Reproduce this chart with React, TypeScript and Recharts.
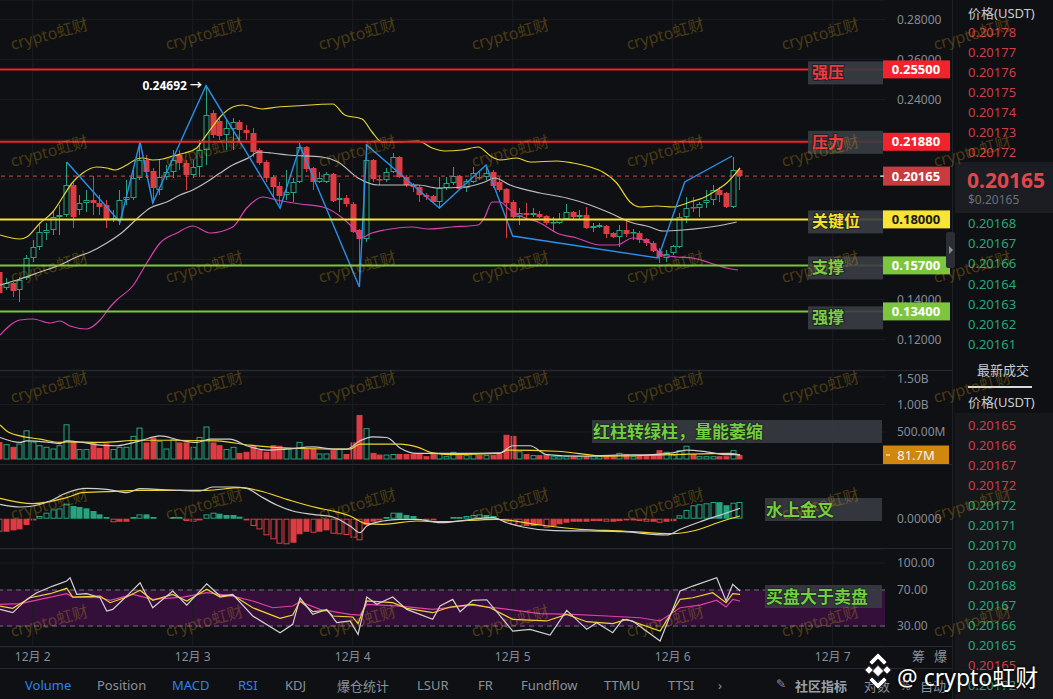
import React from 'react';
import {
  ComposedChart,
  Bar,
  Line,
  XAxis,
  YAxis,
  CartesianGrid,
  ReferenceLine,
  ReferenceArea,
  ReferenceDot,
} from 'recharts';

// hourly candles from 12月1 19:00, [open, high, low, close]
const candles: [number, number, number, number][] = [
  [0.1537, 0.1547, 0.1412, 0.1432], [0.1457, 0.1507, 0.1447, 0.1482], [0.1482, 0.1487, 0.1412, 0.1442],
  [0.1447, 0.1512, 0.1387, 0.1497], [0.1507, 0.1622, 0.1497, 0.1607], [0.1607, 0.1697, 0.1587, 0.1662],
  [0.1662, 0.1772, 0.1647, 0.1737], [0.1732, 0.1782, 0.1697, 0.1747], [0.1747, 0.1847, 0.1722, 0.1812],
  [0.1812, 0.1872, 0.1722, 0.1822], [0.1822, 0.2087, 0.1812, 0.1972], [0.1972, 0.1982, 0.1757, 0.1812],
  [0.1847, 0.1922, 0.1822, 0.1882], [0.1882, 0.1947, 0.1837, 0.1897], [0.1897, 0.2017, 0.1822, 0.1882],
  [0.1882, 0.1922, 0.1822, 0.1862], [0.1872, 0.1897, 0.1757, 0.1797], [0.1797, 0.1847, 0.1787, 0.1807],
  [0.1797, 0.1947, 0.1772, 0.1897], [0.1897, 0.1997, 0.1872, 0.1912], [0.1907, 0.2047, 0.1897, 0.2007],
  [0.2007, 0.2187, 0.1997, 0.2097], [0.2097, 0.2122, 0.2007, 0.2037], [0.2042, 0.2057, 0.1882, 0.1957],
  [0.1947, 0.2097, 0.1922, 0.2012], [0.2012, 0.2072, 0.1997, 0.2037], [0.2037, 0.2147, 0.2007, 0.2097],
  [0.2122, 0.2147, 0.2047, 0.2082], [0.2082, 0.2097, 0.1947, 0.2022], [0.2022, 0.2097, 0.2007, 0.2062],
  [0.2062, 0.2197, 0.2012, 0.2147], [0.2147, 0.24692, 0.2072, 0.2322], [0.2332, 0.2347, 0.2207, 0.2222],
  [0.2292, 0.2312, 0.2197, 0.2217], [0.2222, 0.2297, 0.2147, 0.2257], [0.2252, 0.2307, 0.2147, 0.2287],
  [0.2287, 0.2297, 0.2197, 0.2247], [0.2247, 0.2272, 0.2197, 0.2232], [0.2232, 0.2257, 0.2112, 0.2137],
  [0.2147, 0.2157, 0.2072, 0.2082], [0.2087, 0.2097, 0.1987, 0.2007], [0.2012, 0.2022, 0.1912, 0.1962],
  [0.1967, 0.1987, 0.1872, 0.1917], [0.1922, 0.2047, 0.1897, 0.1937], [0.1932, 0.2007, 0.1887, 0.1987],
  [0.1987, 0.2182, 0.1982, 0.2162], [0.2162, 0.2167, 0.2037, 0.2052], [0.2057, 0.2062, 0.1947, 0.1987],
  [0.1987, 0.2037, 0.1982, 0.2007], [0.1987, 0.2037, 0.1982, 0.2027], [0.2027, 0.2032, 0.1887, 0.1892],
  [0.1897, 0.1982, 0.1837, 0.1907], [0.1907, 0.1922, 0.1862, 0.1877], [0.1877, 0.1887, 0.1732, 0.1737],
  [0.1747, 0.1752, 0.1462, 0.1702], [0.1702, 0.2167, 0.1687, 0.2097], [0.2097, 0.2102, 0.1987, 0.2002],
  [0.2002, 0.2022, 0.1972, 0.1997], [0.1997, 0.2057, 0.1987, 0.2037], [0.2037, 0.2132, 0.2032, 0.2112],
  [0.2112, 0.2117, 0.2007, 0.2012], [0.2012, 0.2022, 0.1962, 0.1972], [0.1972, 0.1982, 0.1937, 0.1962],
  [0.1962, 0.1972, 0.1887, 0.1922], [0.1922, 0.1932, 0.1897, 0.1912], [0.1917, 0.1922, 0.1882, 0.1887],
  [0.1887, 0.2012, 0.1862, 0.1957], [0.1957, 0.2012, 0.1947, 0.1982], [0.1982, 0.2062, 0.1972, 0.2017],
  [0.2017, 0.2022, 0.1947, 0.1952], [0.1957, 0.2002, 0.1937, 0.1992], [0.1987, 0.2062, 0.1982, 0.2032],
  [0.2012, 0.2037, 0.1997, 0.2007], [0.2012, 0.2062, 0.1997, 0.2032], [0.2037, 0.2047, 0.1957, 0.1967],
  [0.1987, 0.2012, 0.1937, 0.1947], [0.1952, 0.1957, 0.1707, 0.1882], [0.1887, 0.1897, 0.1807, 0.1812],
  [0.1812, 0.1857, 0.1772, 0.1832], [0.1832, 0.1882, 0.1807, 0.1822], [0.1822, 0.1857, 0.1812, 0.1832],
  [0.1827, 0.1842, 0.1807, 0.1812], [0.1817, 0.1822, 0.1772, 0.1782], [0.1782, 0.1812, 0.1737, 0.1787],
  [0.1782, 0.1832, 0.1777, 0.1802], [0.1802, 0.1877, 0.1797, 0.1837], [0.1837, 0.1842, 0.1802, 0.1812],
  [0.1812, 0.1847, 0.1797, 0.1822], [0.1822, 0.1862, 0.1752, 0.1757], [0.1757, 0.1782, 0.1737, 0.1767],
  [0.1762, 0.1782, 0.1757, 0.1772], [0.1767, 0.1772, 0.1707, 0.1727], [0.1732, 0.1737, 0.1707, 0.1712],
  [0.1712, 0.1772, 0.1662, 0.1747], [0.1747, 0.1797, 0.1712, 0.1727], [0.1732, 0.1752, 0.1697, 0.1737],
  [0.1732, 0.1742, 0.1682, 0.1697], [0.1702, 0.1707, 0.1667, 0.1682], [0.1682, 0.1692, 0.1637, 0.1642],
  [0.1642, 0.1657, 0.1582, 0.1612], [0.1607, 0.1647, 0.1587, 0.1627], [0.1632, 0.1672, 0.1622, 0.1667],
  [0.1662, 0.1832, 0.1657, 0.1812], [0.1812, 0.1912, 0.1782, 0.1857], [0.1862, 0.1912, 0.1837, 0.1857],
  [0.1857, 0.1887, 0.1812, 0.1877], [0.1882, 0.1947, 0.1857, 0.1897], [0.1897, 0.1972, 0.1872, 0.1947],
  [0.1947, 0.1962, 0.1887, 0.1922], [0.1932, 0.1937, 0.1857, 0.1862], [0.1862, 0.2112, 0.1857, 0.2047],
  [0.2047, 0.2057, 0.1947, 0.20165],
];

// Bollinger bands, [candle index, price]
const bollUpper: [number, number][] = [
  [0.1, 0.1722], [3.1, 0.1702], [4.1, 0.1712], [6.1, 0.1782], [8.0, 0.1837], [9.5, 0.1912], [10.9, 0.1982],
  [12.5, 0.2032], [14.6, 0.2062], [16.1, 0.2057], [17.3, 0.2047], [19.1, 0.2072], [20.6, 0.2102], [21.5, 0.2107],
  [23.0, 0.2097], [24.5, 0.2102], [26.0, 0.2117], [27.8, 0.2132], [29.6, 0.2157], [30.5, 0.2197], [31.6, 0.2247],
  [33.1, 0.2312], [35.0, 0.2362], [36.5, 0.2372], [39.4, 0.2352], [41.8, 0.2362], [44.3, 0.2367], [50.0, 0.2377],
  [51.8, 0.2322], [54.4, 0.2302], [55.9, 0.2237], [57.4, 0.2187], [59.3, 0.2187], [62.8, 0.2192], [64.9, 0.2157],
  [66.8, 0.2142], [69.4, 0.2147], [71.8, 0.2162], [73.9, 0.2112], [75.1, 0.2097], [77.6, 0.2107], [79.6, 0.2087],
  [83.6, 0.2092], [86.0, 0.2082], [88.6, 0.2062], [90.5, 0.2037], [92.6, 0.1982], [94.6, 0.1887], [96.1, 0.1862],
  [98.6, 0.1867], [101.0, 0.1862], [103.6, 0.1887], [105.5, 0.1907], [107.6, 0.1947], [109.1, 0.1982],
  [110.6, 0.2037], [111.1, 0.2057],
];
const bollMid: [number, number][] = [
  [0.1, 0.1472], [3.1, 0.1502], [6.1, 0.1537], [9.1, 0.1572], [11.6, 0.1612], [13.6, 0.1637], [16.1, 0.1682],
  [18.5, 0.1737], [20.6, 0.1802], [22.6, 0.1857], [25.1, 0.1887], [27.1, 0.1922], [29.0, 0.1947], [31.1, 0.1987],
  [33.1, 0.2032], [35.0, 0.2072], [37.6, 0.2112], [38.8, 0.2137], [40.9, 0.2132], [43.3, 0.2122], [48.4, 0.2112],
  [50.8, 0.2087], [53.8, 0.2007], [56.8, 0.1972], [62.8, 0.1972], [65.8, 0.1957], [69.8, 0.1962], [72.8, 0.1987],
  [74.3, 0.2007], [76.6, 0.1972], [81.1, 0.1932], [85.1, 0.1907], [88.6, 0.1872], [91.6, 0.1832], [94.6, 0.1787],
  [97.6, 0.1762], [99.5, 0.1742], [102.5, 0.1747], [105.5, 0.1757], [108.5, 0.1772], [110.6, 0.1787],
];
const bollLower: [number, number][] = [
  [0.1, 0.1222], [3.1, 0.1297], [5.0, 0.1302], [7.6, 0.1282], [9.1, 0.1292], [10.6, 0.1267], [13.1, 0.1252],
  [15.1, 0.1297], [16.6, 0.1362], [17.6, 0.1397], [20.0, 0.1467], [22.1, 0.1582], [24.1, 0.1682], [26.6, 0.1732],
  [29.0, 0.1767], [31.6, 0.1732], [35.0, 0.1762], [37.1, 0.1857], [39.5, 0.1912], [41.6, 0.1897], [45.1, 0.1877],
  [48.5, 0.1862], [51.8, 0.1797], [53.3, 0.1747], [54.1, 0.1707], [55.9, 0.1732], [57.8, 0.1747], [61.9, 0.1762],
  [64.3, 0.1752], [67.9, 0.1762], [71.8, 0.1772], [72.8, 0.1812], [73.9, 0.1887], [75.1, 0.1887], [76.6, 0.1847],
  [78.5, 0.1812], [81.1, 0.1782], [83.6, 0.1732], [86.6, 0.1707], [90.1, 0.1672], [92.6, 0.1672], [95.0, 0.1707],
  [97.6, 0.1682], [99.5, 0.1622], [101.6, 0.1612], [104.0, 0.1607], [106.6, 0.1582], [109.1, 0.1557],
  [110.8, 0.1547],
];

// swing zigzag
const zigzag: [number, number][] = [
  [10.1, 0.2087], [18.1, 0.1787], [21.1, 0.2187], [23.0, 0.1882], [31.0, 0.24692], [42.1, 0.1857],
  [45.1, 0.2167], [54.0, 0.1462], [55.1, 0.2172], [66.0, 0.1857], [73.0, 0.2072], [77.0, 0.1717],
  [98.8, 0.1607], [102.8, 0.1987], [109.9, 0.2117],
];
const peakPrice = 0.24692;
const peakIndex = 31.0;

const levelPrices = [0.255, 0.2188, 0.18, 0.157, 0.134];
const levelNames = ['强压', '压力', '关键位', '支撑', '强撑'];
const lastPrice = 0.20165;

// volume in billions
const volumes = [
  0.32, 0.28, 0.23, 0.29, 0.53, 0.32, 0.26, 0.23, 0.2, 0.26, 0.64, 0.32, 0.19, 0.19, 0.31, 0.21, 0.29, 0.19,
  0.23, 0.23, 0.43, 0.58, 0.31, 0.4, 0.34, 0.2, 0.37, 0.31, 0.31, 0.23, 0.41, 0.6, 0.31, 0.26, 0.19, 0.23,
  0.12, 0.14, 0.25, 0.17, 0.14, 0.26, 0.25, 0.21, 0.21, 0.32, 0.19, 0.2, 0.11, 0.11, 0.17, 0.19, 0.1, 0.31,
  0.81, 0.57, 0.12, 0.09, 0.09, 0.1, 0.1, 0.1, 0.1, 0.1, 0.06, 0.1, 0.12, 0.06, 0.14, 0.08, 0.08, 0.12,
  0.08, 0.08, 0.08, 0.1, 0.45, 0.43, 0.15, 0.1, 0.08, 0.08, 0.1, 0.06, 0.06, 0.06, 0.06, 0.06, 0.06, 0.06,
  0.06, 0.06, 0.06, 0.12, 0.1, 0.06, 0.08, 0.08, 0.08, 0.17, 0.14, 0.08, 0.17, 0.25, 0.1, 0.06, 0.06, 0.06,
  0.06, 0.06, 0.17, 0.0817,
];
const volMaFast: [number, number][] = [
  [0.1, 0.4], [3.1, 0.31], [4.1, 0.34], [7.6, 0.31], [9.1, 0.29], [10.1, 0.34], [12.5, 0.31], [15.1, 0.26],
  [17.6, 0.25], [21.1, 0.34], [24.1, 0.43], [27.1, 0.35], [29.6, 0.31], [31.6, 0.37], [34.6, 0.37], [37.1, 0.25],
  [40.1, 0.17], [43.1, 0.19], [47.0, 0.23], [50.0, 0.19], [52.1, 0.19], [54.1, 0.34], [56.0, 0.41], [58.1, 0.4],
  [60.1, 0.21], [62.6, 0.11], [65.0, 0.11], [67.6, 0.11], [75.1, 0.12], [77.0, 0.25], [79.6, 0.25], [82.1, 0.09],
  [87.1, 0.06], [92.6, 0.08], [98.0, 0.09], [101.0, 0.12], [103.1, 0.17], [106.1, 0.14], [109.1, 0.09],
  [111.1, 0.09],
];
const volMaSlow: [number, number][] = [
  [0.1, 0.63], [1.1, 0.52], [3.1, 0.43], [6.1, 0.37], [9.1, 0.31], [10.1, 0.32], [15.1, 0.31], [21.1, 0.35],
  [26.0, 0.35], [32.6, 0.34], [37.6, 0.26], [45.1, 0.2], [52.6, 0.19], [54.1, 0.28], [60.1, 0.28], [62.6, 0.23],
  [65.0, 0.12], [67.6, 0.09], [75.1, 0.11], [76.1, 0.17], [83.6, 0.15], [91.1, 0.06], [101.0, 0.09],
  [109.6, 0.11], [111.1, 0.08],
];
const lastVolume = 0.0817;

const macdHist = [
  -0.0013, -0.0013, -0.00117, -0.00107, -0.00063, -0.00017, 0.00027, 0.0006, 0.00093, 0.00103, 0.0015,
  0.00127, 0.00117, 0.00103, 0.00077, 0.00043, 0.00017, -0.00036, -0.0003, -0.0003, 0.00017, 0.00043,
  0.00043, 0.00017, 0.0001, 0.0001, 0.00017, 0.00017, -0.00023, -0.0003, -0.00017, 0.00043, 0.0006, 0.0005,
  0.00037, 0.00037, 0.0002, -0.00017, -0.00073, -0.00107, -0.00166, -0.00206, -0.0025, -0.00256, -0.0024,
  -0.00156, -0.0013, -0.0014, -0.0013, -0.00117, -0.0015, -0.00156, -0.00163, -0.0019, -0.00216, -0.00063,
  -0.0003, -0.00017, 0.00017, 0.0006, 0.0006, 0.00037, 0.00027, 0.0001, -0.00013, -0.00017, -0.00007,
  0.0001, 0.00017, 0.00017, 0.00027, 0.00037, 0.00043, 0.00037, 0.00027, 0.0001, -0.0003, -0.00063,
  -0.00073, -0.00073, -0.00073, -0.00063, -0.0009, -0.00073, -0.00056, -0.0004, -0.0003, -0.0003, -0.0003,
  -0.00023, -0.00023, -0.0003, -0.0003, -0.00023, -0.00017, -0.00017, -0.00023, -0.0003, -0.0003, -0.0004,
  -0.0003, -0.00025, 0.00034, 0.00087, 0.00134, 0.00144, 0.00154, 0.00167, 0.00165, 0.00134, 0.0016,
  0.00167,
];
const macdDif: [number, number][] = [
  [0.1, 0.00144], [3.1, 0.00117], [5.0, 0.00127], [7.6, 0.00177], [10.1, 0.0026], [13.1, 0.00304],
  [16.1, 0.00294], [19.1, 0.0026], [21.1, 0.003], [23.6, 0.00294], [26.6, 0.00284], [30.1, 0.00277],
  [32.0, 0.00317], [35.0, 0.00317], [37.1, 0.00304], [39.1, 0.00227], [41.6, 0.00137], [44.0, 0.00077],
  [47.0, 0.00044], [50.0, 0.00017], [52.6, -0.00073], [54.1, -0.0014], [55.1, -0.00073], [57.5, -0.00023],
  [60.1, -0.00006], [62.6, -0.00006], [65.0, -0.0003], [66.1, -0.0004], [71.0, -0.00006], [74.0, 0.0001],
  [76.1, -0.0004], [78.5, -0.00083], [82.6, -0.00116], [88.6, -0.00123], [93.5, -0.0013], [100.1, -0.00163],
  [102.1, -0.00106], [105.1, -0.0003], [108.5, 0.00044], [111.1, 0.00104],
];
const macdDea: [number, number][] = [
  [0.1, 0.00204], [5.0, 0.0015], [10.1, 0.0021], [12.5, 0.0026], [16.1, 0.0027], [21.1, 0.00284],
  [26.0, 0.00284], [31.1, 0.00284], [36.1, 0.0031], [39.1, 0.00277], [43.1, 0.00194], [47.6, 0.0011],
  [50.0, 0.00077], [52.6, 0.00027], [55.1, -0.0005], [57.5, -0.00056], [62.6, -0.00023], [66.1, -0.0003],
  [74.6, -0.00006], [81.1, -0.00063], [87.1, -0.00106], [93.5, -0.00123], [101.0, -0.0015], [104.0, -0.00123],
  [108.5, -0.00023], [111.1, 0.00027],
];

const rsiFast: [number, number][] = [
  [0.1, 48.5], [2.0, 44.8], [4.1, 59.6], [5.6, 67], [8.0, 74.4], [10.1, 80], [10.6, 83.7], [11.6, 65.2],
  [13.1, 65.9], [15.1, 61.4], [16.1, 46.7], [17.0, 48.5], [19.1, 63.3], [21.1, 78.1], [23.0, 50.3], [26.0, 68.9],
  [28.1, 53.3], [31.1, 77], [33.1, 63.3], [35.0, 65.2], [38.0, 41.1], [42.1, 22.6], [44.0, 31.9], [45.1, 61.4],
  [47.0, 43], [49.1, 48.5], [50.6, 33.7], [52.6, 35.6], [53.8, 20.7], [55.1, 62.2], [56.6, 54.1], [59.0, 62.2],
  [61.1, 48.5], [65.0, 37.4], [66.1, 52.2], [68.0, 59.6], [69.1, 45.9], [71.0, 58.6], [73.1, 59.2], [77.0, 24.4],
  [79.6, 26.3], [82.6, 20], [85.1, 47.4], [88.1, 26.3], [89.6, 33.7], [92.0, 22.6], [93.5, 37.4], [95.0, 35.6],
  [99.1, 13.3], [102.1, 68.9], [104.0, 74.4], [107.6, 83.7], [109.0, 57.8], [110.0, 76.3], [111.1, 68.9],
];
const rsiMid: [number, number][] = [
  [0.1, 52.2], [2.0, 49.6], [4.6, 61.4], [7.6, 65.9], [10.1, 71.9], [11.0, 62.2], [15.1, 63.3], [16.6, 55.9],
  [19.1, 62.2], [21.1, 69.7], [23.0, 58.6], [26.0, 65.2], [28.1, 57.8], [31.1, 70.8], [33.1, 62.2], [35.0, 64.4],
  [38.0, 50.3], [42.1, 38.5], [44.0, 42.2], [45.1, 57.8], [47.0, 45.9], [49.1, 47.4], [50.0, 41.1], [53.0, 40],
  [53.8, 32.6], [55.1, 57.8], [59.0, 55.9], [61.1, 49.6], [65.0, 44.8], [67.6, 51.1], [71.0, 54.1], [73.6, 50.3],
  [77.0, 37.4], [82.1, 35.6], [85.1, 43], [88.1, 34.8], [92.0, 32.6], [94.1, 37.4], [99.1, 24.4], [102.1, 59.6],
  [104.0, 61.4], [107.0, 67], [109.0, 55.9], [110.0, 65.9], [111.1, 65.2],
];
const rsiSlow: [number, number][] = [
  [0.1, 54.1], [3.1, 54.8], [6.1, 59.6], [10.1, 65.9], [11.0, 62.2], [15.1, 61.4], [16.6, 58.6], [20.0, 65.2],
  [23.0, 59.6], [27.5, 62.2], [31.1, 67], [35.0, 63.3], [38.0, 57.8], [41.0, 50.3], [44.0, 52.2], [45.1, 57],
  [48.1, 48.5], [52.6, 43], [54.1, 42.2], [55.1, 54.1], [60.1, 52.2], [65.0, 48.5], [71.0, 53.3], [75.1, 49.6],
  [81.1, 43.7], [86.0, 43], [91.1, 41.1], [96.1, 39.2], [99.1, 35.6], [102.1, 50.3], [105.1, 53.3],
  [107.6, 58.6], [109.0, 51.1], [110.0, 59.6], [111.1, 57.8],
];

const priceTicks = [0.12, 0.14, 0.16, 0.18, 0.2, 0.22, 0.24, 0.26, 0.28];
const volTicks = [0.5, 1, 1.5];
const rsiTicks = [30, 50, 70, 100];
const dayTicks = [5, 29, 53, 77, 101, 125];
const dayLabels = ['12月 2', '12月 3', '12月 4', '12月 5', '12月 6', '12月 7'];

const askPrices = [0.20178, 0.20177, 0.20176, 0.20175, 0.20174, 0.20173, 0.20172];
const bidPrices = [0.20168, 0.20167, 0.20166, 0.20164, 0.20163, 0.20162, 0.20161];
const tradePrices = [
  0.20165, 0.20166, 0.20167, 0.20172, 0.20172, 0.20171, 0.2017, 0.20169, 0.20168, 0.20167, 0.20166, 0.20165,
  0.20165, 0.20172,
];
const tradeSides = ['sell', 'sell', 'sell', 'sell', 'buy', 'buy', 'buy', 'buy', 'buy', 'buy', 'buy', 'buy', 'sell', 'buy'];

const toolbarItems = ['Volume', 'Position', 'MACD', 'RSI', 'KDJ', '爆仓统计', 'LSUR', 'FR', 'Fundflow', 'TTMU', 'TTSI', '›'];
const toolbarActive = ['Volume', 'MACD', 'RSI'];

// ---- styles / layout
const BG = '#0e1013';
const GRID = '#1b1e23';
const SEP = '#262930';
const UP = '#27a47e';
const DOWN = '#dd3c42';
const AXIS_TXT = '#848c99';
const FONT = '"Noto Sans", "Noto Sans CJK SC", sans-serif';
const CHART_W = 952;
const X_DOMAIN: [number, number] = [0.09, 132.84];
const PRICE_DOMAIN: [number, number] = [0.1047, 0.2897];
const levelLineColors = ['#f2232d', '#f2232d', '#f7e434', '#7cc63e', '#7cc63e'];
const levelBoxText = ['#ffffff', '#ffffff', '#1c1c1c', '#ffffff', '#ffffff'];
const levelNameColors = ['#f2393e', '#f2393e', '#f4e12e', '#76d03f', '#76d03f'];
const levelNameTop = [-8, -11, -9, -9, -5];
const toolbarLeft = [25, 97, 172, 238, 285, 337, 417, 478, 521, 604, 668, 718];
const wmCols = [47, 202, 355, 508, 663, 818, 970];
const wmRows = [33, 150, 266, 386, 503, 620];

const rows = (pts: [number, number][]) => pts.map(([i, v]) => ({ i, v }));
const candleRows = candles.map(([o, h, l, c], i) => ({ i, o, h, l, c, range: [l, h] }));
const volRows = volumes.map((v, i) => ({ i, v, up: candles[i][3] >= candles[i][0] }));
const macdRows = macdHist.map((v, i) => ({
  i,
  v,
  hollow: i === 0 || Math.abs(v) > Math.abs(macdHist[i - 1]),
}));
// ticks that sit right under a tag on the axis are left blank
const taggedPrices = [...levelPrices, lastPrice];
const priceTickText = (v: number) => (taggedPrices.some((p) => Math.abs(p - v) < 0.004) ? '' : v.toFixed(5));

function CandleShape(props: any) {
  const { x, y, width, height, payload } = props;
  if (x == null || y == null || !payload) return null;
  const { o, h, l, c } = payload;
  const top = Math.min(y, y + height);
  const hgt = Math.abs(height);
  const px = (v: number) => (h === l ? top : top + ((h - v) / (h - l)) * hgt);
  const up = c >= o;
  const color = up ? UP : DOWN;
  const cx = Math.round(x + width / 2) + 0.5;
  const bTop = px(Math.max(o, c));
  const bBot = Math.max(px(Math.min(o, c)), bTop + 1);
  return (
    <g>
      <line x1={cx} x2={cx} y1={top} y2={bTop} stroke={color} strokeWidth={1} />
      <line x1={cx} x2={cx} y1={bBot} y2={top + hgt} stroke={color} strokeWidth={1} />
      <rect
        x={cx - 2.5}
        y={bTop + 0.5}
        width={5}
        height={Math.max(bBot - bTop - 1, 0.5)}
        fill={up ? BG : color}
        stroke={color}
        strokeWidth={1}
      />
    </g>
  );
}

function VolShape(props: any) {
  const { x, y, width, height, payload } = props;
  if (x == null || y == null || !payload) return null;
  const top = Math.min(y, y + height);
  const hgt = Math.max(Math.abs(height), 1);
  const color = payload.up ? UP : DOWN;
  const cx = Math.round(x + width / 2) + 0.5;
  return (
    <rect x={cx - 2.5} y={top + 0.5} width={5} height={hgt - 1} fill={payload.up ? BG : color} stroke={color} strokeWidth={1} />
  );
}

function MacdShape(props: any) {
  const { x, y, width, height, payload } = props;
  if (x == null || y == null || !payload) return null;
  const top = Math.min(y, y + height);
  const hgt = Math.max(Math.abs(height), 1);
  const color = payload.v >= 0 ? UP : DOWN;
  const cx = Math.round(x + width / 2) + 0.5;
  return (
    <rect x={cx - 2.5} y={top + 0.5} width={5} height={hgt - 1} fill={payload.hollow ? BG : color} stroke={color} strokeWidth={1} />
  );
}

const levelTag = (k: number) => (p: any) => {
  const vb = p.viewBox || {};
  const y = vb.y ?? 0;
  const right = (vb.x ?? 0) + (vb.width ?? 0);
  const nt = y + levelNameTop[k];
  return (
    <g>
      <rect x={right - 77} y={nt} width={75} height={23} fill="#3a3d44" fillOpacity={0.9} />
      <text x={right - 73} y={nt + 17} fill={levelNameColors[k]} fontSize={16} fontWeight={700} stroke="#202227" strokeWidth={2} paintOrder="stroke">
        {levelNames[k]}
      </text>
      <rect x={right - 2} y={y - 9} width={67} height={18} fill={levelLineColors[k]} />
      <text x={right + 31} y={y + 4.5} textAnchor="middle" fill={levelBoxText[k]} fontSize={13} fontWeight={700}>
        {levelPrices[k].toFixed(5)}
      </text>
    </g>
  );
};

const lastPriceTag = (p: any) => {
  const vb = p.viewBox || {};
  const y = vb.y ?? 0;
  const right = (vb.x ?? 0) + (vb.width ?? 0);
  return (
    <g>
      <rect x={right - 2} y={y - 9.5} width={67} height={19} fill="#c83b3f" />
      <line x1={right - 5} x2={right - 1} y1={y} y2={y} stroke="#ffffff" />
      <text x={right + 31} y={y + 4.5} textAnchor="middle" fill="#ffffff" fontSize={13} fontWeight={700}>
        {lastPrice.toFixed(5)}
      </text>
    </g>
  );
};

const lastVolTag = (p: any) => {
  const vb = p.viewBox || {};
  const y = vb.y ?? 0;
  const right = (vb.x ?? 0) + (vb.width ?? 0);
  return (
    <g>
      <rect x={right - 2} y={y - 9.5} width={66} height={19} fill="#cf870d" />
      <line x1={right + 1} x2={right + 5} y1={y} y2={y} stroke="#ffffff" />
      <text x={right + 31} y={y + 4.5} textAnchor="middle" fill="#f4f4f4" fontSize={13}>
        {(lastVolume * 1000).toFixed(1) + 'M'}
      </text>
    </g>
  );
};

const peakTag = (p: any) => {
  const vb = p.viewBox || {};
  return (
    <text x={(vb.x ?? 0) - 4} y={(vb.y ?? 0) + 4} textAnchor="end" fill="#ffffff" fontSize={12} fontWeight={700}>
      {peakPrice.toFixed(5) + ' →'}
    </text>
  );
};

const xAxisHidden = <XAxis type="number" dataKey="i" domain={X_DOMAIN} allowDataOverflow hide ticks={dayTicks} />;
const dayLines = () => dayTicks.map((t) => <ReferenceLine key={'d' + t} x={t} stroke={GRID} />);
const tickStyle = { fill: AXIS_TXT, fontSize: 12 };
const noMargin = { top: 0, right: 0, bottom: 0, left: 0 };

// price axis and grid drawn on an under-layer so the level tags cover the ticks
function PriceAxisLayer() {
  return (
    <ComposedChart width={CHART_W} height={370} data={candleRows} margin={noMargin}>
      <CartesianGrid vertical={false} stroke={GRID} />
      {xAxisHidden}
      <YAxis
        orientation="right"
        width={67}
        domain={PRICE_DOMAIN}
        allowDataOverflow
        ticks={priceTicks}
        tickFormatter={priceTickText}
        axisLine={false}
        tickLine={false}
        tick={tickStyle}
        tickMargin={6}
      />
      {dayLines()}
    </ComposedChart>
  );
}

function PricePanel() {
  return (
    <ComposedChart width={CHART_W} height={370} data={candleRows} margin={noMargin}>
      {xAxisHidden}
      <YAxis orientation="right" width={67} domain={PRICE_DOMAIN} allowDataOverflow ticks={priceTicks} tick={false} axisLine={false} tickLine={false} />
      <Bar dataKey="range" shape={CandleShape} barSize={5} isAnimationActive={false} activeBar={false} />
      <Line data={rows(bollLower)} dataKey="v" type="monotone" stroke="#d640b0" strokeWidth={1.2} dot={false} activeDot={false} isAnimationActive={false} />
      <Line data={rows(bollMid)} dataKey="v" type="monotone" stroke="#bdbdbd" strokeWidth={1.2} dot={false} activeDot={false} isAnimationActive={false} />
      <Line data={rows(bollUpper)} dataKey="v" type="monotone" stroke="#e6d534" strokeWidth={1.2} dot={false} activeDot={false} isAnimationActive={false} />
      <Line data={rows(zigzag)} dataKey="v" type="linear" stroke="#2a8fec" strokeWidth={1.4} dot={false} activeDot={false} isAnimationActive={false} />
      <ReferenceLine y={lastPrice} stroke="#d6484b" strokeDasharray="4 4" label={lastPriceTag} />
      {levelPrices.map((lv, k) => (
        <ReferenceLine key={'l' + k} y={lv} stroke={levelLineColors[k]} strokeWidth={2} label={levelTag(k)} />
      ))}
      <ReferenceDot x={peakIndex} y={peakPrice} r={0} fill="none" stroke="none" label={peakTag} />
    </ComposedChart>
  );
}

function VolumePanel() {
  return (
    <ComposedChart width={CHART_W} height={94} data={volRows} margin={noMargin}>
      <CartesianGrid vertical={false} stroke={GRID} />
      {xAxisHidden}
      <YAxis
        orientation="right"
        width={67}
        domain={[-0.1, 1.609]}
        allowDataOverflow
        ticks={volTicks}
        tickFormatter={(v: number) => (v >= 1 ? v.toFixed(2) + 'B' : (v * 1000).toFixed(2) + 'M')}
        axisLine={false}
        tickLine={false}
        tick={tickStyle}
        tickMargin={6}
      />
      {dayLines()}
      <Bar dataKey="v" shape={VolShape} barSize={5} isAnimationActive={false} activeBar={false} />
      <Line data={rows(volMaSlow)} dataKey="v" type="monotone" stroke="#efd52c" strokeWidth={1.2} dot={false} activeDot={false} isAnimationActive={false} />
      <Line data={rows(volMaFast)} dataKey="v" type="monotone" stroke="#cfcfcf" strokeWidth={1.2} dot={false} activeDot={false} isAnimationActive={false} />
      <ReferenceLine y={lastVolume} stroke="none" label={lastVolTag} />
    </ComposedChart>
  );
}

function MacdPanel() {
  return (
    <ComposedChart width={CHART_W} height={84} data={macdRows} margin={noMargin}>
      {xAxisHidden}
      <YAxis
        orientation="right"
        width={67}
        domain={[-0.00303, 0.00537]}
        allowDataOverflow
        ticks={[0]}
        tickFormatter={(v: number) => v.toFixed(5)}
        axisLine={false}
        tickLine={false}
        tick={tickStyle}
        tickMargin={6}
      />
      {dayLines()}
      <Bar dataKey="v" shape={MacdShape} barSize={5} isAnimationActive={false} activeBar={false} />
      <Line data={rows(macdDea)} dataKey="v" type="monotone" stroke="#efd52c" strokeWidth={1.2} dot={false} activeDot={false} isAnimationActive={false} />
      <Line data={rows(macdDif)} dataKey="v" type="monotone" stroke="#d0d0d0" strokeWidth={1.2} dot={false} activeDot={false} isAnimationActive={false} />
    </ComposedChart>
  );
}

function RsiPanel() {
  return (
    <ComposedChart width={CHART_W} height={120} data={rows(rsiSlow)} margin={noMargin}>
      <CartesianGrid vertical={false} stroke={GRID} />
      <XAxis
        type="number"
        dataKey="i"
        domain={X_DOMAIN}
        allowDataOverflow
        ticks={dayTicks}
        interval={0}
        tickFormatter={(v: number) => dayLabels[dayTicks.indexOf(v)] ?? ''}
        axisLine={false}
        tickLine={false}
        tick={tickStyle}
        tickSize={0}
        tickMargin={5}
        height={22}
      />
      <YAxis
        orientation="right"
        width={67}
        domain={[6.67, 115.6]}
        allowDataOverflow
        ticks={rsiTicks}
        tickFormatter={(v: number) => v.toFixed(2)}
        axisLine={false}
        tickLine={false}
        tick={tickStyle}
        tickMargin={6}
      />
      <ReferenceArea y1={30} y2={70} fill="#330f3a" fillOpacity={1} stroke="none" />
      {dayLines()}
      <ReferenceLine y={70} stroke="#6c7078" strokeDasharray="5 4" />
      <ReferenceLine y={30} stroke="#6c7078" strokeDasharray="5 4" />
      <Line data={rows(rsiSlow)} dataKey="v" type="linear" stroke="#e03fa8" strokeWidth={1.2} dot={false} activeDot={false} isAnimationActive={false} />
      <Line data={rows(rsiMid)} dataKey="v" type="linear" stroke="#eed52a" strokeWidth={1.2} dot={false} activeDot={false} isAnimationActive={false} />
      <Line data={rows(rsiFast)} dataKey="v" type="linear" stroke="#d2d2d2" strokeWidth={1.2} dot={false} activeDot={false} isAnimationActive={false} />
    </ComposedChart>
  );
}

const noteStyle: React.CSSProperties = {
  position: 'absolute',
  background: 'rgba(58,61,68,0.85)',
  color: '#72cf40',
  fontWeight: 700,
  fontSize: 17,
  lineHeight: '23px',
  height: 23,
  paddingLeft: 1,
  textShadow: '0 0 2px #111, 0 0 1px #111',
  whiteSpace: 'nowrap',
  boxSizing: 'border-box',
};

function BinanceLogo() {
  return (
    <svg width={30} height={44} viewBox="0 0 30 44" style={{ position: 'absolute', left: 863, top: 649 }}>
      <g fill="#ffffff" stroke="#222" strokeWidth={0.8}>
        <rect x={11} y={18} width={8} height={8} transform="rotate(45 15 22)" />
        <rect x={3} y={18} width={6} height={6} transform="rotate(45 6 21)" />
        <rect x={21} y={18} width={6} height={6} transform="rotate(45 24 21)" />
        <path d="M15 4 L24 13 L21 16 L15 10 L9 16 L6 13 Z" />
        <path d="M15 40 L24 31 L21 28 L15 34 L9 28 L6 31 Z" />
      </g>
    </svg>
  );
}

export default function App() {
  return (
    <div
      style={{
        position: 'absolute',
        left: 0,
        top: 0,
        width: 1053,
        height: 699,
        background: BG,
        overflow: 'hidden',
        fontFamily: FONT,
      }}
    >
      <div style={{ position: 'absolute', left: 0, top: 0 }}>
        <PriceAxisLayer />
      </div>
      <div style={{ position: 'absolute', left: 0, top: 0 }}>
        <PricePanel />
      </div>
      <div style={{ position: 'absolute', left: 0, top: 370, borderTop: `1px solid ${SEP}` }}>
        <VolumePanel />
      </div>
      <div style={{ position: 'absolute', left: 0, top: 464, borderTop: `1px solid ${SEP}` }}>
        <MacdPanel />
      </div>
      <div style={{ position: 'absolute', left: 0, top: 548, borderTop: `1px solid ${SEP}` }}>
        <RsiPanel />
      </div>
      <div style={{ position: 'absolute', left: 0, top: 646, width: CHART_W, height: 1, background: SEP }} />

      {/* indicator notes */}
      <div style={{ ...noteStyle, left: 592, top: 420, width: 290 }}>红柱转绿柱，量能萎缩</div>
      <div style={{ ...noteStyle, left: 765, top: 498, width: 117 }}>水上金叉</div>
      <div style={{ ...noteStyle, left: 765, top: 585, width: 117 }}>买盘大于卖盘</div>

      {/* toolbar */}
      <div style={{ position: 'absolute', left: 0, top: 668, width: CHART_W, height: 31, borderTop: `1px solid ${SEP}`, background: BG }} />
      {toolbarItems.map((t, k) => (
        <div
          key={t}
          style={{
            position: 'absolute',
            left: toolbarLeft[k],
            top: 676,
            fontSize: 13,
            color: toolbarActive.includes(t) ? '#2f80f2' : '#8a909b',
          }}
        >
          {t}
        </div>
      ))}
      <div style={{ position: 'absolute', left: 776, top: 675, fontSize: 12, color: '#8a909b' }}>✎</div>
      <div style={{ position: 'absolute', left: 795, top: 676, fontSize: 13, color: '#9aa0aa', fontWeight: 700 }}>社区指标</div>
      <div style={{ position: 'absolute', left: 864, top: 676, fontSize: 13, color: '#8a909b' }}>对数</div>
      <div style={{ position: 'absolute', left: 900, top: 676, fontSize: 13, color: '#8a909b' }}>%</div>
      <div style={{ position: 'absolute', left: 920, top: 676, fontSize: 13, color: '#8a909b' }}>自动</div>
      <div style={{ position: 'absolute', left: 912, top: 646, fontSize: 13, color: '#8a909b' }}>筹</div>
      <div style={{ position: 'absolute', left: 934, top: 646, fontSize: 13, color: '#8a909b' }}>爆</div>

      {/* order book */}
      <div style={{ position: 'absolute', left: 952, top: 0, width: 1, height: 699, background: '#1d2025' }} />
      <div style={{ position: 'absolute', left: 946, top: 232, width: 9, height: 36, background: '#2b2e35', borderRadius: 2 }}>
        <div style={{ position: 'absolute', left: 3, top: 14, width: 0, height: 0, borderTop: '4px solid transparent', borderBottom: '4px solid transparent', borderLeft: '4px solid #8a909b' }} />
      </div>
      <div style={{ position: 'absolute', left: 968, top: 3, fontSize: 13, color: '#c9cdd4' }}>价格(USDT)</div>
      {askPrices.map((p, k) => (
        <div key={'a' + k} style={{ position: 'absolute', left: 968, top: 23 + k * 20, fontSize: 13, color: '#cf3d49' }}>
          {p.toFixed(5)}
        </div>
      ))}
      <div style={{ position: 'absolute', left: 955, top: 162, width: 98, height: 51, background: '#1b1d22' }} />
      <div style={{ position: 'absolute', left: 967, top: 166, fontSize: 21, fontWeight: 700, color: '#e0474c' }}>{lastPrice.toFixed(5)}</div>
      <div style={{ position: 'absolute', left: 968, top: 191, fontSize: 12, color: '#6b707a' }}>{'$' + lastPrice.toFixed(5)}</div>
      {bidPrices.map((p, k) => (
        <div key={'b' + k} style={{ position: 'absolute', left: 968, top: 214 + k * 20.2, fontSize: 13, color: '#27a67a' }}>
          {p.toFixed(5)}
        </div>
      ))}
      <div style={{ position: 'absolute', left: 977, top: 360, fontSize: 13, color: '#c9cdd4' }}>最新成交</div>
      <div style={{ position: 'absolute', left: 968, top: 386, width: 64, height: 2, background: '#d6d9de' }} />
      <div style={{ position: 'absolute', left: 955, top: 413, width: 98, height: 286, background: '#15171b' }} />
      <div style={{ position: 'absolute', left: 968, top: 392, fontSize: 13, color: '#c9cdd4' }}>价格(USDT)</div>
      {tradePrices.map((p, k) => (
        <div
          key={'t' + k}
          style={{
            position: 'absolute',
            left: 968,
            top: 416 + k * 20,
            fontSize: 13,
            color: tradeSides[k] === 'sell' ? '#cf3d49' : '#27a67a',
          }}
        >
          {p.toFixed(5)}
        </div>
      ))}

      {/* watermarks */}
      {wmRows.map((r) =>
        wmCols.map((c) => (
          <div
            key={r + '-' + c}
            style={{
              position: 'absolute',
              left: c - 38,
              top: r - 12,
              fontSize: 16,
              color: 'rgba(238,184,20,0.27)',
              transform: 'rotate(-15deg)',
              whiteSpace: 'nowrap',
              pointerEvents: 'none',
            }}
          >
            crypto虹财
          </div>
        ))
      )}
      <BinanceLogo />
      <div
        style={{
          position: 'absolute',
          left: 897,
          top: 659,
          fontSize: 23,
          color: '#ffffff',
          whiteSpace: 'nowrap',
          textShadow: '0 0 3px #000, 0 0 2px #000',
        }}
      >
        @ crypto虹财
      </div>
    </div>
  );
}
